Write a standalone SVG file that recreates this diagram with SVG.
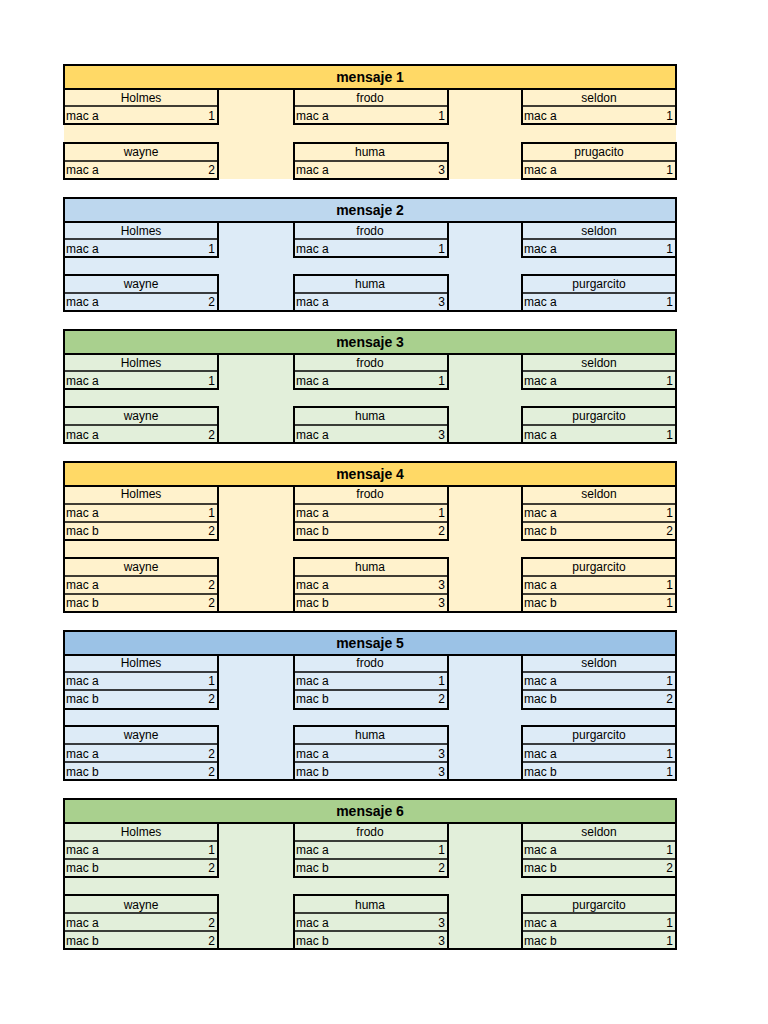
<svg xmlns="http://www.w3.org/2000/svg" width="768" height="1024" viewBox="0 0 768 1024">
<style>
text{font-family:"Liberation Sans",Arial,sans-serif;font-size:12px;fill:#000}
.h{font-weight:bold;font-size:14px;text-anchor:middle}
.n{text-anchor:middle}
.v{text-anchor:end}
.t{fill:none;stroke:#000;stroke-width:2}
.l{stroke:#000;stroke-width:1.5}
.yh{fill:#FFD966}.yf{fill:#FFF2CC}
.bh{fill:#BDD7EE}.bh2{fill:#9BC2E6}.bf{fill:#DDEBF7}
.gh{fill:#A9D08E}.gf{fill:#E2EFDA}
</style>
<rect width="768" height="1024" fill="#fff"/>
<!-- block 1 -->
<g id="m1">
<rect x="64" y="65" width="612" height="114" class="yf"/>
<rect x="64" y="65" width="612" height="24" class="yh" stroke="#000" stroke-width="2"/>
<text x="370" y="82" class="h">mensaje 1</text>
<g id="m1-holmes"><rect x="64" y="89" width="154" height="35" class="t"/><line x1="64" y1="106" x2="218" y2="106" class="l"/><text x="141" y="102" class="n">Holmes</text><text x="66" y="120">mac a</text><text x="215" y="120" class="v">1</text></g>
<g id="m1-frodo"><rect x="294" y="89" width="154" height="35" class="t"/><line x1="294" y1="106" x2="448" y2="106" class="l"/><text x="370" y="102" class="n">frodo</text><text x="296" y="120">mac a</text><text x="445" y="120" class="v">1</text></g>
<g id="m1-seldon"><rect x="522" y="89" width="154" height="35" class="t"/><line x1="522" y1="106" x2="676" y2="106" class="l"/><text x="599" y="102" class="n">seldon</text><text x="524" y="120">mac a</text><text x="673" y="120" class="v">1</text></g>
<g id="m1-wayne"><rect x="64" y="143" width="154" height="36" class="t"/><line x1="64" y1="161" x2="218" y2="161" class="l"/><text x="141" y="156" class="n">wayne</text><text x="66" y="174">mac a</text><text x="215" y="174" class="v">2</text></g>
<g id="m1-huma"><rect x="294" y="143" width="154" height="36" class="t"/><line x1="294" y1="161" x2="448" y2="161" class="l"/><text x="370" y="156" class="n">huma</text><text x="296" y="174">mac a</text><text x="445" y="174" class="v">3</text></g>
<g id="m1-prugacito"><rect x="522" y="143" width="154" height="36" class="t"/><line x1="522" y1="161" x2="676" y2="161" class="l"/><text x="599" y="156" class="n">prugacito</text><text x="524" y="174">mac a</text><text x="673" y="174" class="v">1</text></g>
</g>
<!-- block 2 -->
<g id="m2">
<rect x="64" y="198" width="612" height="113" class="bf" stroke="#000" stroke-width="2"/>
<rect x="64" y="198" width="612" height="24" class="bh" stroke="#000" stroke-width="2"/>
<text x="370" y="215" class="h">mensaje 2</text>
<g id="m2-holmes"><rect x="64" y="222" width="154" height="35" class="t"/><line x1="64" y1="239" x2="218" y2="239" class="l"/><text x="141" y="235" class="n">Holmes</text><text x="66" y="253">mac a</text><text x="215" y="253" class="v">1</text></g>
<g id="m2-frodo"><rect x="294" y="222" width="154" height="35" class="t"/><line x1="294" y1="239" x2="448" y2="239" class="l"/><text x="370" y="235" class="n">frodo</text><text x="296" y="253">mac a</text><text x="445" y="253" class="v">1</text></g>
<g id="m2-seldon"><rect x="522" y="222" width="154" height="35" class="t"/><line x1="522" y1="239" x2="676" y2="239" class="l"/><text x="599" y="235" class="n">seldon</text><text x="524" y="253">mac a</text><text x="673" y="253" class="v">1</text></g>
<g id="m2-wayne"><rect x="64" y="275" width="154" height="36" class="t"/><line x1="64" y1="293" x2="218" y2="293" class="l"/><text x="141" y="288" class="n">wayne</text><text x="66" y="306">mac a</text><text x="215" y="306" class="v">2</text></g>
<g id="m2-huma"><rect x="294" y="275" width="154" height="36" class="t"/><line x1="294" y1="293" x2="448" y2="293" class="l"/><text x="370" y="288" class="n">huma</text><text x="296" y="306">mac a</text><text x="445" y="306" class="v">3</text></g>
<g id="m2-purgarcito"><rect x="522" y="275" width="154" height="36" class="t"/><line x1="522" y1="293" x2="676" y2="293" class="l"/><text x="599" y="288" class="n">purgarcito</text><text x="524" y="306">mac a</text><text x="673" y="306" class="v">1</text></g>
</g>
<!-- block 3 -->
<g id="m3">
<rect x="64" y="330" width="612" height="113" class="gf" stroke="#000" stroke-width="2"/>
<rect x="64" y="330" width="612" height="24" class="gh" stroke="#000" stroke-width="2"/>
<text x="370" y="347" class="h">mensaje 3</text>
<g id="m3-holmes"><rect x="64" y="354" width="154" height="35" class="t"/><line x1="64" y1="371" x2="218" y2="371" class="l"/><text x="141" y="367" class="n">Holmes</text><text x="66" y="385">mac a</text><text x="215" y="385" class="v">1</text></g>
<g id="m3-frodo"><rect x="294" y="354" width="154" height="35" class="t"/><line x1="294" y1="371" x2="448" y2="371" class="l"/><text x="370" y="367" class="n">frodo</text><text x="296" y="385">mac a</text><text x="445" y="385" class="v">1</text></g>
<g id="m3-seldon"><rect x="522" y="354" width="154" height="35" class="t"/><line x1="522" y1="371" x2="676" y2="371" class="l"/><text x="599" y="367" class="n">seldon</text><text x="524" y="385">mac a</text><text x="673" y="385" class="v">1</text></g>
<g id="m3-wayne"><rect x="64" y="407" width="154" height="36" class="t"/><line x1="64" y1="425" x2="218" y2="425" class="l"/><text x="141" y="420" class="n">wayne</text><text x="66" y="439">mac a</text><text x="215" y="439" class="v">2</text></g>
<g id="m3-huma"><rect x="294" y="407" width="154" height="36" class="t"/><line x1="294" y1="425" x2="448" y2="425" class="l"/><text x="370" y="420" class="n">huma</text><text x="296" y="439">mac a</text><text x="445" y="439" class="v">3</text></g>
<g id="m3-purgarcito"><rect x="522" y="407" width="154" height="36" class="t"/><line x1="522" y1="425" x2="676" y2="425" class="l"/><text x="599" y="420" class="n">purgarcito</text><text x="524" y="439">mac a</text><text x="673" y="439" class="v">1</text></g>
</g>
<!-- block 4 -->
<g id="m4">
<rect x="64" y="462" width="612" height="150" class="yf" stroke="#000" stroke-width="2"/>
<rect x="64" y="462" width="612" height="24" class="yh" stroke="#000" stroke-width="2"/>
<text x="370" y="479" class="h">mensaje 4</text>
<g id="m4-holmes"><rect x="64" y="486" width="154" height="54" class="t"/><line x1="64" y1="504" x2="218" y2="504" class="l"/><line x1="64" y1="522" x2="218" y2="522" class="l"/><text x="141" y="498" class="n">Holmes</text><text x="66" y="517">mac a</text><text x="215" y="517" class="v">1</text><text x="66" y="535">mac b</text><text x="215" y="535" class="v">2</text></g>
<g id="m4-frodo"><rect x="294" y="486" width="154" height="54" class="t"/><line x1="294" y1="504" x2="448" y2="504" class="l"/><line x1="294" y1="522" x2="448" y2="522" class="l"/><text x="370" y="498" class="n">frodo</text><text x="296" y="517">mac a</text><text x="445" y="517" class="v">1</text><text x="296" y="535">mac b</text><text x="445" y="535" class="v">2</text></g>
<g id="m4-seldon"><rect x="522" y="486" width="154" height="54" class="t"/><line x1="522" y1="504" x2="676" y2="504" class="l"/><line x1="522" y1="522" x2="676" y2="522" class="l"/><text x="599" y="498" class="n">seldon</text><text x="524" y="517">mac a</text><text x="673" y="517" class="v">1</text><text x="524" y="535">mac b</text><text x="673" y="535" class="v">2</text></g>
<g id="m4-wayne"><rect x="64" y="558" width="154" height="54" class="t"/><line x1="64" y1="576" x2="218" y2="576" class="l"/><line x1="64" y1="594" x2="218" y2="594" class="l"/><text x="141" y="571" class="n">wayne</text><text x="66" y="589">mac a</text><text x="215" y="589" class="v">2</text><text x="66" y="607">mac b</text><text x="215" y="607" class="v">2</text></g>
<g id="m4-huma"><rect x="294" y="558" width="154" height="54" class="t"/><line x1="294" y1="576" x2="448" y2="576" class="l"/><line x1="294" y1="594" x2="448" y2="594" class="l"/><text x="370" y="571" class="n">huma</text><text x="296" y="589">mac a</text><text x="445" y="589" class="v">3</text><text x="296" y="607">mac b</text><text x="445" y="607" class="v">3</text></g>
<g id="m4-purgarcito"><rect x="522" y="558" width="154" height="54" class="t"/><line x1="522" y1="576" x2="676" y2="576" class="l"/><line x1="522" y1="594" x2="676" y2="594" class="l"/><text x="599" y="571" class="n">purgarcito</text><text x="524" y="589">mac a</text><text x="673" y="589" class="v">1</text><text x="524" y="607">mac b</text><text x="673" y="607" class="v">1</text></g>
</g>
<!-- block 5 -->
<g id="m5">
<rect x="64" y="631" width="612" height="149" class="bf" stroke="#000" stroke-width="2"/>
<rect x="64" y="631" width="612" height="24" class="bh2" stroke="#000" stroke-width="2"/>
<text x="370" y="648" class="h">mensaje 5</text>
<g id="m5-holmes"><rect x="64" y="655" width="154" height="54" class="t"/><line x1="64" y1="672" x2="218" y2="672" class="l"/><line x1="64" y1="690" x2="218" y2="690" class="l"/><text x="141" y="667" class="n">Holmes</text><text x="66" y="685">mac a</text><text x="215" y="685" class="v">1</text><text x="66" y="703">mac b</text><text x="215" y="703" class="v">2</text></g>
<g id="m5-frodo"><rect x="294" y="655" width="154" height="54" class="t"/><line x1="294" y1="672" x2="448" y2="672" class="l"/><line x1="294" y1="690" x2="448" y2="690" class="l"/><text x="370" y="667" class="n">frodo</text><text x="296" y="685">mac a</text><text x="445" y="685" class="v">1</text><text x="296" y="703">mac b</text><text x="445" y="703" class="v">2</text></g>
<g id="m5-seldon"><rect x="522" y="655" width="154" height="54" class="t"/><line x1="522" y1="672" x2="676" y2="672" class="l"/><line x1="522" y1="690" x2="676" y2="690" class="l"/><text x="599" y="667" class="n">seldon</text><text x="524" y="685">mac a</text><text x="673" y="685" class="v">1</text><text x="524" y="703">mac b</text><text x="673" y="703" class="v">2</text></g>
<g id="m5-wayne"><rect x="64" y="726" width="154" height="54" class="t"/><line x1="64" y1="744" x2="218" y2="744" class="l"/><line x1="64" y1="762" x2="218" y2="762" class="l"/><text x="141" y="739" class="n">wayne</text><text x="66" y="758">mac a</text><text x="215" y="758" class="v">2</text><text x="66" y="776">mac b</text><text x="215" y="776" class="v">2</text></g>
<g id="m5-huma"><rect x="294" y="726" width="154" height="54" class="t"/><line x1="294" y1="744" x2="448" y2="744" class="l"/><line x1="294" y1="762" x2="448" y2="762" class="l"/><text x="370" y="739" class="n">huma</text><text x="296" y="758">mac a</text><text x="445" y="758" class="v">3</text><text x="296" y="776">mac b</text><text x="445" y="776" class="v">3</text></g>
<g id="m5-purgarcito"><rect x="522" y="726" width="154" height="54" class="t"/><line x1="522" y1="744" x2="676" y2="744" class="l"/><line x1="522" y1="762" x2="676" y2="762" class="l"/><text x="599" y="739" class="n">purgarcito</text><text x="524" y="758">mac a</text><text x="673" y="758" class="v">1</text><text x="524" y="776">mac b</text><text x="673" y="776" class="v">1</text></g>
</g>
<!-- block 6 -->
<g id="m6">
<rect x="64" y="799" width="612" height="150" class="gf" stroke="#000" stroke-width="2"/>
<rect x="64" y="799" width="612" height="24" class="gh" stroke="#000" stroke-width="2"/>
<text x="370" y="816" class="h">mensaje 6</text>
<g id="m6-holmes"><rect x="64" y="823" width="154" height="54" class="t"/><line x1="64" y1="841" x2="218" y2="841" class="l"/><line x1="64" y1="859" x2="218" y2="859" class="l"/><text x="141" y="836" class="n">Holmes</text><text x="66" y="854">mac a</text><text x="215" y="854" class="v">1</text><text x="66" y="872">mac b</text><text x="215" y="872" class="v">2</text></g>
<g id="m6-frodo"><rect x="294" y="823" width="154" height="54" class="t"/><line x1="294" y1="841" x2="448" y2="841" class="l"/><line x1="294" y1="859" x2="448" y2="859" class="l"/><text x="370" y="836" class="n">frodo</text><text x="296" y="854">mac a</text><text x="445" y="854" class="v">1</text><text x="296" y="872">mac b</text><text x="445" y="872" class="v">2</text></g>
<g id="m6-seldon"><rect x="522" y="823" width="154" height="54" class="t"/><line x1="522" y1="841" x2="676" y2="841" class="l"/><line x1="522" y1="859" x2="676" y2="859" class="l"/><text x="599" y="836" class="n">seldon</text><text x="524" y="854">mac a</text><text x="673" y="854" class="v">1</text><text x="524" y="872">mac b</text><text x="673" y="872" class="v">2</text></g>
<g id="m6-wayne"><rect x="64" y="895" width="154" height="54" class="t"/><line x1="64" y1="913" x2="218" y2="913" class="l"/><line x1="64" y1="931" x2="218" y2="931" class="l"/><text x="141" y="909" class="n">wayne</text><text x="66" y="927">mac a</text><text x="215" y="927" class="v">2</text><text x="66" y="945">mac b</text><text x="215" y="945" class="v">2</text></g>
<g id="m6-huma"><rect x="294" y="895" width="154" height="54" class="t"/><line x1="294" y1="913" x2="448" y2="913" class="l"/><line x1="294" y1="931" x2="448" y2="931" class="l"/><text x="370" y="909" class="n">huma</text><text x="296" y="927">mac a</text><text x="445" y="927" class="v">3</text><text x="296" y="945">mac b</text><text x="445" y="945" class="v">3</text></g>
<g id="m6-purgarcito"><rect x="522" y="895" width="154" height="54" class="t"/><line x1="522" y1="913" x2="676" y2="913" class="l"/><line x1="522" y1="931" x2="676" y2="931" class="l"/><text x="599" y="909" class="n">purgarcito</text><text x="524" y="927">mac a</text><text x="673" y="927" class="v">1</text><text x="524" y="945">mac b</text><text x="673" y="945" class="v">1</text></g>
</g>
<g id="connectors"/>
</svg>
